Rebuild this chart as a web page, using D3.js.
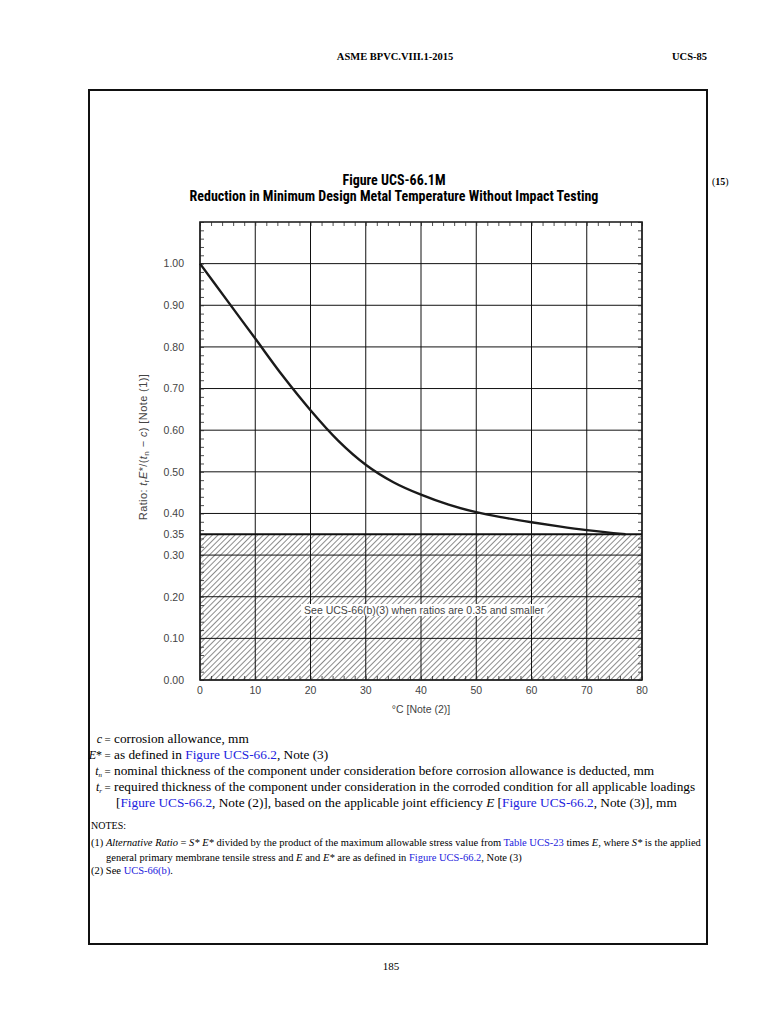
<!DOCTYPE html>
<html>
<head>
<meta charset="utf-8">
<script src="https://cdn.jsdelivr.net/npm/d3@7"></script>
<style>
  html, body { margin: 0; padding: 0; background: #fff; }
  svg { display: block; }
  .serif { font-family: "Liberation Serif", "DejaVu Serif", serif; }
  .sans { font-family: "Liberation Sans", Arial, sans-serif; }
  .narrow { font-family: "Liberation Sans Narrow", "Roboto Condensed", "Liberation Sans", sans-serif; }
  .link { fill: #2222dd; }
</style>
</head>
<body>
<div id="chart"></div>
<script>
// chart values
const curveTemp  = [0, 5, 10, 15, 20, 25, 30, 35, 40, 45, 50, 55, 60, 65, 70, 77];
const curveRatio = [1.00, 0.91, 0.82, 0.73, 0.648, 0.575, 0.517, 0.475, 0.445, 0.421, 0.403, 0.390, 0.379, 0.369, 0.360, 0.350];
const xTicks = [0, 10, 20, 30, 40, 50, 60, 70, 80];
const yTicks = [0, 0.10, 0.20, 0.30, 0.35, 0.40, 0.50, 0.60, 0.70, 0.80, 0.90, 1.00];
const limitRatio = 0.35;

const W = 768, H = 1024;
const plot = { left: 200, right: 642, top: 222, bottom: 680 };

const svg = d3.select("#chart").append("svg")
    .attr("width", W)
    .attr("height", H);

// hatch pattern for the region below 0.35
const defs = svg.append("defs");
defs.append("pattern")
    .attr("id", "hatch")
    .attr("patternUnits", "userSpaceOnUse")
    .attr("width", 4)
    .attr("height", 4)
    .attr("patternTransform", "rotate(45)")
  .append("line")
    .attr("x1", 0).attr("y1", 0)
    .attr("x2", 0).attr("y2", 4)
    .attr("stroke", "#1a1a1a")
    .attr("stroke-width", 1);

// page header
svg.append("text").attr("class", "serif")
    .attr("x", 395).attr("y", 60)
    .attr("text-anchor", "middle")
    .style("font-size", "10.5px").style("font-weight", "bold")
    .text("ASME BPVC.VIII.1-2015");
svg.append("text").attr("class", "serif")
    .attr("x", 707).attr("y", 60)
    .attr("text-anchor", "end")
    .style("font-size", "10.5px").style("font-weight", "bold")
    .text("UCS-85");

// page frame
svg.append("rect")
    .attr("x", 89).attr("y", 90)
    .attr("width", 618).attr("height", 854)
    .attr("fill", "none")
    .attr("stroke", "#111")
    .attr("stroke-width", 2);

// titles
svg.append("text").attr("class", "narrow")
    .attr("x", 394).attr("y", 185)
    .attr("text-anchor", "middle")
    .style("font-size", "14px").style("font-weight", "bold")
    .text("Figure UCS-66.1M");
svg.append("text").attr("class", "narrow")
    .attr("x", 394).attr("y", 201)
    .attr("text-anchor", "middle")
    .style("font-size", "14px").style("font-weight", "bold")
    .text("Reduction in Minimum Design Metal Temperature Without Impact Testing");
const ed = svg.append("text").attr("class", "serif")
    .attr("x", 712).attr("y", 185)
    .style("font-size", "10px");
ed.append("tspan").text("(");
ed.append("tspan").style("font-weight", "bold").text("15");
ed.append("tspan").text(")");

// scales
const x = d3.scaleLinear().domain([0, 80]).range([plot.left, plot.right]);
const y = d3.scaleLinear().domain([0, 1.10]).range([plot.bottom, plot.top]);

const g = svg.append("g");

// hatched area
g.append("rect")
    .attr("x", x(0)).attr("y", y(limitRatio))
    .attr("width", x(80) - x(0))
    .attr("height", y(0) - y(limitRatio))
    .attr("fill", "url(#hatch)");

// grid
g.append("g")
    .selectAll("line")
    .data(xTicks)
    .join("line")
    .attr("x1", d => x(d)).attr("x2", d => x(d))
    .attr("y1", plot.top).attr("y2", plot.bottom)
    .attr("stroke", "#111").attr("stroke-width", 1);
g.append("g")
    .selectAll("line")
    .data(yTicks.filter(d => d !== limitRatio))
    .join("line")
    .attr("x1", plot.left).attr("x2", plot.right)
    .attr("y1", d => y(d)).attr("y2", d => y(d))
    .attr("stroke", "#111").attr("stroke-width", 1);

// minor ticks, pointing inward on all four sides
const minorY = d3.range(0, 1.1001, 0.02);
const minorX = d3.range(0, 80.001, 2);
g.append("g").call(d3.axisRight(y).tickValues(minorY).tickSize(4).tickFormat(""))
    .attr("transform", `translate(${plot.left},0)`)
    .call(a => a.select(".domain").remove());
g.append("g").call(d3.axisLeft(y).tickValues(minorY).tickSize(4).tickFormat(""))
    .attr("transform", `translate(${plot.right},0)`)
    .call(a => a.select(".domain").remove());
g.append("g").call(d3.axisBottom(x).tickValues(minorX).tickSize(4).tickFormat(""))
    .attr("transform", `translate(0,${plot.top})`)
    .call(a => a.select(".domain").remove());
g.append("g").call(d3.axisTop(x).tickValues(minorX).tickSize(4).tickFormat(""))
    .attr("transform", `translate(0,${plot.bottom})`)
    .call(a => a.select(".domain").remove());
g.selectAll(".tick line").attr("stroke", "#222").attr("stroke-width", 0.8);

// frame of the plot
g.append("rect")
    .attr("x", plot.left).attr("y", plot.top)
    .attr("width", plot.right - plot.left)
    .attr("height", plot.bottom - plot.top)
    .attr("fill", "none")
    .attr("stroke", "#222")
    .attr("stroke-width", 1.6);

// the 0.35 limit line
g.append("line")
    .attr("x1", plot.left).attr("x2", plot.right)
    .attr("y1", y(limitRatio)).attr("y2", y(limitRatio))
    .attr("stroke", "#111").attr("stroke-width", 2);

// curve
const pts = curveTemp.map((t, i) => [t, curveRatio[i]]);
g.append("path")
    .datum(pts)
    .attr("fill", "none")
    .attr("stroke", "#1a1a1a")
    .attr("stroke-width", 2.4)
    .attr("d", d3.line().x(d => x(d[0])).y(d => y(d[1])).curve(d3.curveMonotoneX));

// note in hatched area
const note = g.append("g");
const noteText = note.append("text").attr("class", "sans")
    .attr("x", 424).attr("y", 614)
    .attr("text-anchor", "middle")
    .style("font-size", "10.5px")
    .attr("fill", "#444")
    .text("See UCS-66(b)(3) when ratios are 0.35 and smaller");
const bb = noteText.node().getBBox();
note.insert("rect", "text")
    .attr("x", bb.x - 3).attr("y", bb.y)
    .attr("width", bb.width + 6).attr("height", bb.height)
    .attr("fill", "#fff");

// tick labels
g.append("g")
    .selectAll("text")
    .data(yTicks)
    .join("text")
    .attr("class", "sans")
    .attr("x", 184).attr("y", d => y(d) + 3.8)
    .attr("text-anchor", "end")
    .style("font-size", "10.5px")
    .attr("fill", "#444")
    .text(d => d.toFixed(2));
g.append("g")
    .selectAll("text")
    .data(xTicks)
    .join("text")
    .attr("class", "sans")
    .attr("x", d => x(d)).attr("y", 694)
    .attr("text-anchor", "middle")
    .style("font-size", "10.5px")
    .attr("fill", "#444")
    .text(d => d);

// axis titles
g.append("text").attr("class", "sans")
    .attr("x", 421).attr("y", 713)
    .attr("text-anchor", "middle")
    .style("font-size", "10.5px")
    .attr("fill", "#444")
    .text("°C [Note (2)]");

const yl = g.append("text").attr("class", "sans")
    .attr("transform", "translate(147,447) rotate(-90)")
    .attr("text-anchor", "middle")
    .style("font-size", "11px")
    .style("letter-spacing", "0.4px")
    .attr("fill", "#444");
yl.append("tspan").text("Ratio: ");
yl.append("tspan").style("font-style", "italic").text("t");
yl.append("tspan").attr("dy", 2).style("font-size", "8px").text("r");
yl.append("tspan").attr("dy", -2).style("font-style", "italic").text("E");
yl.append("tspan").text("*/(");
yl.append("tspan").style("font-style", "italic").text("t");
yl.append("tspan").attr("dy", 2).style("font-size", "8px").text("n");
yl.append("tspan").attr("dy", -2).text(" − ");
yl.append("tspan").style("font-style", "italic").text("c");
yl.append("tspan").text(") [Note (1)]");

// symbol definitions
const symbols = [
    { sym: "c", sub: "", parts: [["corrosion allowance, mm"]] },
    { sym: "E", sub: "*", parts: [["as defined in "], ["Figure UCS-66.2", "link"], [", Note (3)"]] },
    { sym: "t", sub: "n", parts: [["nominal thickness of the component under consideration before corrosion allowance is deducted, mm"]] },
    { sym: "t", sub: "r", parts: [["required thickness of the component under consideration in the corroded condition for all applicable loadings"]] }
];
const symLineY = [743, 759, 775, 791];
symbols.forEach((s, i) => {
    const sy = symLineY[i];
    const st = svg.append("text").attr("class", "serif")
        .attr("x", 102).attr("y", sy)
        .attr("text-anchor", "end")
        .style("font-size", "12px");
    st.append("tspan").style("font-style", "italic").text(s.sym);
    if (s.sub === "*") st.append("tspan").text("*");
    else if (s.sub) st.append("tspan").attr("dy", 2).style("font-size", "7px").style("font-style", "italic").text(s.sub);
    svg.append("text").attr("class", "serif")
        .attr("x", 104.5).attr("y", sy)
        .style("font-size", "11px").text("=");
    const tt = svg.append("text").attr("class", "serif")
        .attr("x", 114).attr("y", sy)
        .style("font-size", "13.3px");
    s.parts.forEach(p => tt.append("tspan").attr("class", p[1] || null).text(p[0]));
});
const cont = svg.append("text").attr("class", "serif")
    .attr("x", 116).attr("y", 807)
    .style("font-size", "13.3px");
cont.append("tspan").text("[");
cont.append("tspan").attr("class", "link").text("Figure UCS-66.2");
cont.append("tspan").text(", Note (2)], based on the applicable joint efficiency ");
cont.append("tspan").style("font-style", "italic").text("E");
cont.append("tspan").text("  [");
cont.append("tspan").attr("class", "link").text("Figure UCS-66.2");
cont.append("tspan").text(", Note (3)], mm");

// notes
svg.append("text").attr("class", "serif")
    .attr("x", 91).attr("y", 829)
    .style("font-size", "10px")
    .text("NOTES:");
const n1 = svg.append("text").attr("class", "serif")
    .attr("x", 91).attr("y", 846)
    .style("font-size", "10.5px");
n1.append("tspan").text("(1) ");
n1.append("tspan").style("font-style", "italic").text("Alternative Ratio");
n1.append("tspan").text(" = ");
n1.append("tspan").style("font-style", "italic").text("S* E*");
n1.append("tspan").text(" divided by the product of the maximum allowable stress value from ");
n1.append("tspan").attr("class", "link").text("Table UCS-23");
n1.append("tspan").text(" times ");
n1.append("tspan").style("font-style", "italic").text("E");
n1.append("tspan").text(", where ");
n1.append("tspan").style("font-style", "italic").text("S*");
n1.append("tspan").text(" is the applied");
const n1b = svg.append("text").attr("class", "serif")
    .attr("x", 106).attr("y", 861)
    .style("font-size", "10.5px");
n1b.append("tspan").text("general primary membrane tensile stress and ");
n1b.append("tspan").style("font-style", "italic").text("E");
n1b.append("tspan").text(" and ");
n1b.append("tspan").style("font-style", "italic").text("E*");
n1b.append("tspan").text(" are as defined in ");
n1b.append("tspan").attr("class", "link").text("Figure UCS-66.2");
n1b.append("tspan").text(", Note (3)");
const n2 = svg.append("text").attr("class", "serif")
    .attr("x", 91).attr("y", 874)
    .style("font-size", "10.5px");
n2.append("tspan").text("(2) See ");
n2.append("tspan").attr("class", "link").text("UCS-66(b)");
n2.append("tspan").text(".");

// page number
svg.append("text").attr("class", "serif")
    .attr("x", 391).attr("y", 970)
    .attr("text-anchor", "middle")
    .style("font-size", "11px")
    .text("185");
</script>
</body>
</html>
